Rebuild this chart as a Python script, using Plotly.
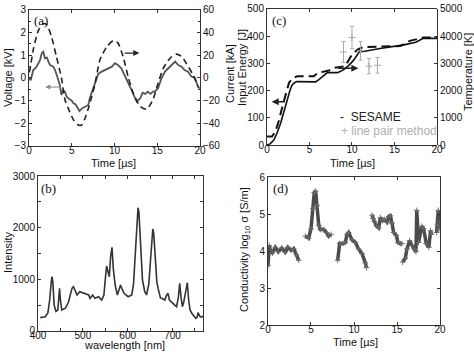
import plotly.graph_objects as go

# ---------------- (a) voltage / current ----------------
t_v = [0.0, 0.2, 0.5, 0.8, 1.1, 1.3, 1.5, 1.67, 1.87, 2.1, 2.3, 2.46, 2.84, 3.05, 3.24, 3.4, 3.6, 3.8, 4.0, 4.2, 4.4, 4.6, 4.8, 5.0, 5.2, 5.4, 5.6, 5.9, 6.2, 6.55, 6.94, 7.1, 7.3, 7.5, 7.84,
       8.1, 8.5, 8.9, 9.3, 9.7, 10.05, 10.4, 10.8, 11.2, 11.6, 12.0, 12.3, 12.6, 13.0, 13.3, 13.6, 13.9, 14.2, 14.5, 14.7, 15.1, 15.5, 15.9, 16.3, 16.7, 17.1, 17.45, 17.85, 18.2, 18.6, 19.0, 19.4, 19.8, 20.0]
volt = [0.0, -0.1, 0.35, 0.45, 0.65, 0.8, 1.1, 1.16, 0.87, 0.9, 0.7, 0.57, 0.5, 0.35, 0.13, -0.1, -0.3, -0.75, -0.55, -0.6, -0.82, -0.9, -0.97, -1.0, -1.12, -1.15, -1.26, -1.46, -1.34, -1.26, -1.19, -0.9, -0.7, -0.45, -0.16,
        0.18, 0.28, 0.35, 0.43, 0.5, 0.65, 0.57, 0.43, 0.13, -0.23, -0.53, -0.8, -1.04, -0.9, -0.65, -0.7, -0.6, -0.7, -0.6, -0.6, -0.45, -0.01, 0.28, 0.43, 0.57, 0.72, 0.57, 0.5, 0.35, 0.28, 0.06, 0.0, -0.41, -0.45]
t_i = [0.0, 0.1, 0.5, 1.1, 1.7, 2.07, 2.65, 3.2, 3.8, 4.2, 4.6, 5.2, 5.77, 6.16, 6.55, 6.94, 7.33, 7.7, 8.3, 9.1, 9.86, 10.4, 11.0, 11.6, 12.2, 13.0, 13.76, 14.5, 15.1, 15.7, 16.5, 17.2, 17.85, 18.4, 19.2, 19.8]
curr = [5, 7, 25, 42, 48, 47, 36, 19, 0, -19, -27, -37, -41.5, -41.5, -35.6, -27, -16.5, -6, 16, 27.6, 33, 31, 19, 1, -13.5, -25, -27.6, -19, -4.7, 8.5, 17.4, 21, 19, 13, 2.6, -7.7]

# ---------------- (b) spectrum ----------------
wl = [405, 416, 422, 426, 429, 431, 433, 436, 440, 444, 446, 448, 450, 453, 461, 468, 472, 476, 479, 483, 487, 493, 501, 507, 513, 516, 522, 527, 535, 542, 547, 550, 553, 556, 559, 562, 565, 568, 572, 577, 581, 584, 588, 592, 601, 609, 613, 617, 620, 623, 625, 627, 630, 633, 638, 642, 647, 650, 653, 656, 658, 660, 662, 665, 668, 673, 676, 679, 683, 686, 690, 693, 696, 701, 705, 709, 713, 716, 719, 722, 725, 728, 733, 736, 739, 744, 748, 752, 755, 757, 760, 762, 765, 768]
inten = [258, 277, 350, 600, 900, 1051, 950, 500, 380, 406, 600, 826, 600, 406, 440, 560, 700, 830, 858, 780, 697, 761, 729, 720, 697, 632, 697, 632, 664, 600, 697, 1000, 1258, 1150, 1051, 1450, 1619, 1200, 890, 697, 820, 890, 800, 729, 664, 697, 900, 1500, 2100, 2387, 2300, 1900, 1300, 987, 760, 697, 900, 1250, 1700, 1974, 1900, 1600, 1200, 950, 820, 640, 632, 620, 600, 680, 729, 600, 568, 535, 500, 471, 650, 922, 650, 471, 560, 700, 935, 600, 406, 330, 290, 245, 270, 355, 300, 277, 270, 290]

# ---------------- (c) energy / temperature ----------------
t_e = [0.0, 0.4, 0.8, 1.2, 1.6, 2.0, 2.35, 2.7, 2.94, 3.2, 3.5, 4.5, 5.7, 6.1, 6.5, 7.1, 8.3, 9.0, 9.6, 10.2, 11.0, 11.2, 13.3, 16.1, 17.5, 18.4, 19.0, 20.0]
energy = [0, 5, 18, 45, 80, 125, 165, 200, 220, 228, 233, 232, 232, 240, 251, 266, 266, 276, 292, 312, 349, 343, 355, 368, 378, 392, 392, 392]
t_T = [0.0, 0.6, 1.0, 1.4, 1.8, 2.2, 2.6, 3.1, 3.6, 5.5, 6.0, 7.3, 8.0, 9.2, 10.0, 10.7, 11.3, 15.7, 16.8, 18.4, 20.0]
temp = [310, 310, 500, 900, 1400, 1900, 2300, 2470, 2530, 2530, 2650, 2740, 2840, 2900, 3330, 3520, 3600, 3640, 3830, 3950, 3950]
t_lp = [9.0, 10.0, 11.0, 12.0, 13.0]
temp_lp = [3420, 3950, 3460, 2900, 2930]
err_lp = [380, 410, 340, 280, 290]

# ---------------- (d) conductivity ----------------
t_c1 = [0.0, 0.15, 0.3, 0.5, 0.85, 1.2, 1.6, 2.0, 2.3, 2.7, 3.0, 3.3, 3.57]
c1 = [3.6, 4.15, 4.0, 3.95, 4.1, 3.98, 4.08, 3.97, 4.1, 4.02, 4.06, 3.9, 3.75]
t_c2 = [4.34, 4.73, 5.0, 5.23, 5.38, 5.54, 5.7, 5.9, 6.09, 6.48, 6.79, 7.06, 7.33]
c2 = [4.4, 4.35, 4.6, 5.15, 5.58, 5.62, 5.23, 4.7, 4.58, 4.58, 4.5, 4.4, 4.45]
t_c3 = [8.1, 8.33, 8.72, 8.99, 9.18, 9.38, 9.77, 10.16, 10.54, 10.93, 11.32, 11.44]
c3 = [3.75, 4.2, 4.2, 4.23, 4.45, 4.5, 4.3, 4.23, 4.05, 3.93, 3.68, 3.55]
t_c4 = [12.1, 12.2, 12.36, 12.6, 12.87, 13.06, 13.33, 13.53, 13.84, 14.03, 14.23, 14.42, 14.61, 14.92, 15.11, 15.38, 15.58]
c4 = [4.97, 4.88, 4.8, 4.68, 4.63, 4.9, 4.82, 4.85, 4.78, 4.93, 4.95, 4.75, 4.5, 4.42, 4.23, 4.2, 4.2]
t_c5 = [15.65, 15.96, 16.16, 16.47, 16.74, 17.0, 17.2, 17.3, 17.5, 17.9, 18.1, 18.4, 18.7, 18.9, 19.0]
c5 = [3.7, 3.8, 4.06, 4.28, 4.15, 4.05, 3.98, 5.1, 4.23, 4.67, 4.6, 4.2, 4.1, 4.55, 4.45]
t_c6 = [19.6, 19.7, 19.8, 19.9, 20.0]
c6 = [4.5, 4.7, 5.1, 4.6, 4.8]

FONT = "Liberation Sans"
SERIF = "Liberation Serif"
GRAY = "#555555"
W, H = 474, 354

fig = go.Figure()

fig.add_trace(go.Scatter(x=t_v, y=volt, mode="lines", line=dict(color=GRAY, width=1.8),
                         xaxis="x", yaxis="y", showlegend=False))
fig.add_trace(go.Scatter(x=t_i, y=curr, mode="lines", line=dict(color="#222222", width=1.6, dash="6px,4px", shape="spline", smoothing=0.6),
                         xaxis="x", yaxis="y2", showlegend=False))

fig.add_trace(go.Scatter(x=wl, y=inten, mode="lines", line=dict(color="#333333", width=1.6),
                         xaxis="x3", yaxis="y5", showlegend=False))

fig.add_trace(go.Scatter(x=t_e, y=energy, mode="lines", line=dict(color="#111111", width=1.6),
                         xaxis="x2", yaxis="y3", showlegend=False))
fig.add_trace(go.Scatter(x=t_T, y=temp, mode="lines", line=dict(color="#111111", width=2, dash="9px,5px"),
                         xaxis="x2", yaxis="y4", showlegend=False))
fig.add_trace(go.Scatter(x=t_lp, y=temp_lp, mode="markers",
                         marker=dict(symbol="cross-thin", size=5, color="#aaaaaa", line=dict(color="#aaaaaa", width=1)),
                         error_y=dict(type="data", array=err_lp, color="#aaaaaa", thickness=1, width=2),
                         xaxis="x2", yaxis="y4", showlegend=False))

for tt, cc in [(t_c1, c1), (t_c2, c2), (t_c3, c3), (t_c4, c4), (t_c5, c5), (t_c6, c6)]:
    fig.add_trace(go.Scatter(x=tt, y=cc, mode="lines+markers",
                             line=dict(color="#4a4a4a", width=3.5),
                             marker=dict(symbol="cross-thin", size=4, color="#6a6a6a", line=dict(color="#6a6a6a", width=1)),
                             xaxis="x4", yaxis="y6", showlegend=False))

tickfont = dict(family=FONT, size=10, color="#111111")

def ax(**kw):
    base = dict(showline=True, linecolor="#333333", linewidth=1, ticks="inside", ticklen=3,
                tickcolor="#333333", showgrid=False, zeroline=False, tickfont=tickfont,
                showticklabels=True, ticklabeloverflow="allow", automargin=False)
    base.update(kw)
    return base

XS = -5  # pull x tick labels up against the axis line
C_DOM = [0.5904, 0.9746]

fig.update_layout(
    width=W, height=H, margin=dict(l=0, r=0, t=0, b=0),
    paper_bgcolor="white", plot_bgcolor="rgba(0,0,0,0)",
    xaxis=ax(domain=[0.0612, 0.4219], anchor="y", range=[0, 20], tickvals=[0, 5, 10, 15, 20], mirror="ticks",
             ticklabelstandoff=XS),
    yaxis=ax(domain=[0.5876, 0.9718], anchor="x", range=[-3, 3], tickvals=[-3, -2, -1, 0, 1, 2, 3],
             minor=dict(ticks="inside", ticklen=2, dtick=0.5, tickcolor="#333333")),
    yaxis2=ax(anchor="x", overlaying="y", side="right", range=[-60, 60], tickvals=[-60, -40, -20, 0, 20, 40, 60],
              minor=dict(ticks="inside", ticklen=2, dtick=10, tickcolor="#333333")),
    xaxis2=ax(domain=[0.5633, 0.9219], anchor="y3", range=[0, 20], tickvals=[0, 5, 10, 15, 20], mirror="ticks",
              ticklabelstandoff=XS),
    yaxis3=ax(domain=C_DOM, anchor="x2", range=[0, 500], tickvals=[0, 100, 200, 300, 400, 500], side="left"),
    yaxis4=ax(domain=C_DOM, anchor="x2", side="right", range=[0, 5000], tickvals=[0, 1000, 2000, 3000, 4000, 5000]),
    xaxis3=ax(domain=[0.0802, 0.4283], anchor="y5", range=[400, 768], tickvals=[400, 500, 600, 700], mirror="ticks",
              minor=dict(ticks="inside", ticklen=3, dtick=50, tickcolor="#333333"), ticklabelstandoff=XS),
    yaxis5=ax(domain=[0.065, 0.5028], anchor="x3", range=[0, 3000], tickvals=[0, 1000, 2000, 3000], mirror="ticks",
              minor=dict(ticks="inside", ticklen=3, dtick=500, tickcolor="#333333")),
    xaxis4=ax(domain=[0.5654, 0.9283], anchor="y6", range=[0, 20], tickvals=[0, 5, 10, 15, 20], mirror="ticks",
              ticklabelstandoff=XS),
    yaxis6=ax(domain=[0.0819, 0.50], anchor="x4", range=[2, 6], tickvals=[2, 3, 4, 5, 6], mirror="ticks"),
)

ann = []
# axis titles (placed at pixel spots of the reference)
def title(text, px, py, rot=0, size=11):
    ann.append(dict(text=text, xref="paper", yref="paper", x=px / W, y=1 - py / H, textangle=rot,
                    xanchor="center", yanchor="middle", showarrow=False,
                    font=dict(family=FONT, size=size, color="#111111")))

title("Voltage [kV]", 8, 78, -90)
title("Current [kA]", 230, 74, -90)
title("Time [µs]", 113, 163)
title("Input Energy [J]", 242, 68, -90)
title("Temperature [K]", 468, 72, -90)
title("Time [µs]", 352, 163)
title("Intensity", 8, 253, -90)
title("wavelength [nm]", 124, 345)
title("Conductivity log<sub>10</sub> σ [S/m]", 245, 250, -90)
title("Time [µs]", 355, 342)

# panel labels
for txt, xr, yr, xx, yy in [("(a)", "x", "y", 0.3, 2.95), ("(c)", "x2", "y3", 0.3, 492),
                            ("(b)", "x3", "y5", 403, 2950), ("(d)", "x4", "y6", 0.3, 5.95)]:
    ann.append(dict(text=txt, xref=xr, yref=yr, x=xx, y=yy, xanchor="left", yanchor="top",
                    showarrow=False, font=dict(family=SERIF, size=13, color="#111111")))
# arrows
ann.append(dict(xref="x", yref="y", x=12.9, y=1.1, axref="x", ayref="y", ax=11.0, ay=1.1,
                showarrow=True, arrowhead=2, arrowsize=1, arrowwidth=1.2, arrowcolor="#222222", text=""))
ann.append(dict(xref="x", yref="y", x=1.9, y=-0.4, axref="x", ayref="y", ax=3.9, ay=-0.4,
                showarrow=True, arrowhead=2, arrowsize=1, arrowwidth=1.0, arrowcolor="#888888", text=""))
ann.append(dict(xref="x2", yref="y3", x=0.55, y=159, axref="x2", ayref="y3", ax=2.3, ay=159,
                showarrow=True, arrowhead=2, arrowsize=1, arrowwidth=1.4, arrowcolor="#222222", text=""))
ann.append(dict(xref="x2", yref="y3", x=10.75, y=282, axref="x2", ayref="y3", ax=8.2, ay=282,
                showarrow=True, arrowhead=2, arrowsize=1, arrowwidth=1.4, arrowcolor="#222222", text=""))
# legend texts in (c)
ann.append(dict(xref="x2", yref="y3", x=8.4, y=103, text="-  SESAME", showarrow=False, xanchor="left",
                font=dict(family=FONT, size=12, color="#222222")))
ann.append(dict(xref="x2", yref="y3", x=8.5, y=51, text="+ line pair method", showarrow=False, xanchor="left",
                font=dict(family=FONT, size=12, color="#b0b0b0")))
fig.update_layout(annotations=ann)

fig.write_html("out.html")
